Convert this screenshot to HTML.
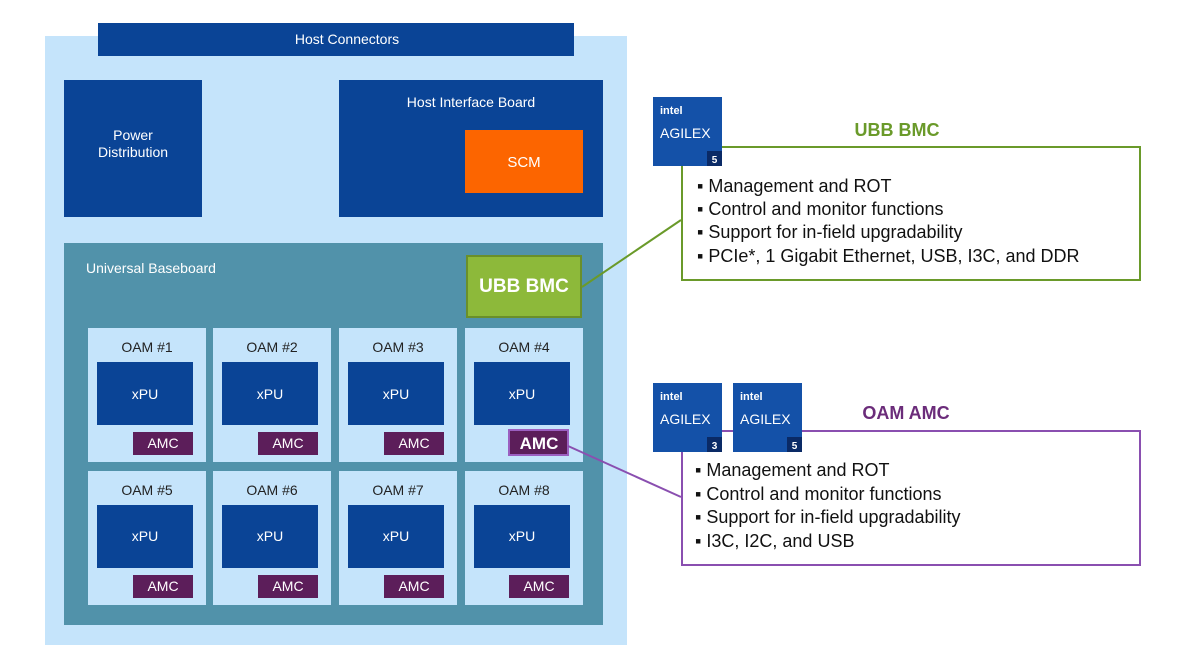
<!DOCTYPE html>
<html><head><meta charset="utf-8"><style>
html,body{margin:0;padding:0;background:#fff;}
svg{display:block;font-family:"Liberation Sans",sans-serif;}
</style></head><body>
<svg width="1200" height="665" viewBox="0 0 1200 665" xmlns="http://www.w3.org/2000/svg">
<rect x="45" y="36" width="582" height="609" fill="#c5e4fb"/>
<rect x="98" y="23" width="476" height="33" fill="#0a4496"/>
<text x="347" y="44" font-size="14" fill="#fff" text-anchor="middle">Host Connectors</text>
<rect x="64" y="80" width="138" height="137" fill="#0a4496"/>
<text x="133" y="140" font-size="14" fill="#fff" text-anchor="middle">Power</text>
<text x="133" y="157" font-size="14" fill="#fff" text-anchor="middle">Distribution</text>
<rect x="339" y="80" width="264" height="137" fill="#0a4496"/>
<text x="471" y="107" font-size="14" fill="#fff" text-anchor="middle">Host Interface Board</text>
<rect x="465" y="130" width="118" height="63" fill="#fc6500"/>
<text x="524" y="167" font-size="15" fill="#fff" text-anchor="middle">SCM</text>
<rect x="64" y="243" width="539" height="382" fill="#5192aa"/>
<text x="86" y="273" font-size="14" fill="#fff">Universal Baseboard</text>
<rect x="467" y="256" width="114" height="61" fill="#8db93a" stroke="#6a8f2a" stroke-width="2"/>
<text x="524" y="292" font-size="19" font-weight="bold" fill="#fff" text-anchor="middle">UBB BMC</text>
<g font-size="14" text-anchor="middle">
<rect x="88" y="328" width="118" height="134" fill="#c5e4fb"/><text x="147" y="352" fill="#222">OAM #1</text><rect x="97" y="362" width="96" height="63" fill="#0a4496"/><text x="145" y="399" fill="#fff">xPU</text><rect x="133" y="432" width="60" height="23" fill="#5c1e5a"/><text x="163" y="448" fill="#fff">AMC</text>
<rect x="213" y="328" width="118" height="134" fill="#c5e4fb"/><text x="272" y="352" fill="#222">OAM #2</text><rect x="222" y="362" width="96" height="63" fill="#0a4496"/><text x="270" y="399" fill="#fff">xPU</text><rect x="258" y="432" width="60" height="23" fill="#5c1e5a"/><text x="288" y="448" fill="#fff">AMC</text>
<rect x="339" y="328" width="118" height="134" fill="#c5e4fb"/><text x="398" y="352" fill="#222">OAM #3</text><rect x="348" y="362" width="96" height="63" fill="#0a4496"/><text x="396" y="399" fill="#fff">xPU</text><rect x="384" y="432" width="60" height="23" fill="#5c1e5a"/><text x="414" y="448" fill="#fff">AMC</text>
<rect x="465" y="328" width="118" height="134" fill="#c5e4fb"/><text x="524" y="352" fill="#222">OAM #4</text><rect x="474" y="362" width="96" height="63" fill="#0a4496"/><text x="522" y="399" fill="#fff">xPU</text><rect x="509" y="430" width="59" height="25" fill="#5c1e5a" stroke="#9b5fc0" stroke-width="2"/><text x="539" y="449" fill="#fff" font-size="17" font-weight="bold">AMC</text>
<rect x="88" y="471" width="118" height="134" fill="#c5e4fb"/><text x="147" y="495" fill="#222">OAM #5</text><rect x="97" y="505" width="96" height="63" fill="#0a4496"/><text x="145" y="541" fill="#fff">xPU</text><rect x="133" y="575" width="60" height="23" fill="#5c1e5a"/><text x="163" y="591" fill="#fff">AMC</text>
<rect x="213" y="471" width="118" height="134" fill="#c5e4fb"/><text x="272" y="495" fill="#222">OAM #6</text><rect x="222" y="505" width="96" height="63" fill="#0a4496"/><text x="270" y="541" fill="#fff">xPU</text><rect x="258" y="575" width="60" height="23" fill="#5c1e5a"/><text x="288" y="591" fill="#fff">AMC</text>
<rect x="339" y="471" width="118" height="134" fill="#c5e4fb"/><text x="398" y="495" fill="#222">OAM #7</text><rect x="348" y="505" width="96" height="63" fill="#0a4496"/><text x="396" y="541" fill="#fff">xPU</text><rect x="384" y="575" width="60" height="23" fill="#5c1e5a"/><text x="414" y="591" fill="#fff">AMC</text>
<rect x="465" y="471" width="118" height="134" fill="#c5e4fb"/><text x="524" y="495" fill="#222">OAM #8</text><rect x="474" y="505" width="96" height="63" fill="#0a4496"/><text x="522" y="541" fill="#fff">xPU</text><rect x="509" y="575" width="60" height="23" fill="#5c1e5a"/><text x="539" y="591" fill="#fff">AMC</text>
</g>
<line x1="582" y1="287" x2="681" y2="220" stroke="#6a9a2a" stroke-width="2"/>
<line x1="568" y1="446" x2="681" y2="497" stroke="#8a4fb0" stroke-width="2"/>
<rect x="682" y="147" width="458" height="133" fill="#fff" stroke="#6a9a2a" stroke-width="2"/>
<text x="897" y="136" font-size="18" font-weight="bold" fill="#6a9a2a" text-anchor="middle">UBB BMC</text>
<g font-size="18" fill="#111">
<text x="697" y="192">▪ Management and ROT</text>
<text x="697" y="215">▪ Control and monitor functions</text>
<text x="697" y="238">▪ Support for in-field upgradability</text>
<text x="697" y="262">▪ PCIe*, 1 Gigabit Ethernet, USB, I3C, and DDR</text>
</g>
<rect x="682" y="431" width="458" height="134" fill="#fff" stroke="#8a4fb0" stroke-width="2"/>
<text x="906" y="419" font-size="18" font-weight="bold" fill="#6b2c7a" text-anchor="middle">OAM AMC</text>
<g font-size="18" fill="#111">
<text x="695" y="476">▪ Management and ROT</text>
<text x="695" y="500">▪ Control and monitor functions</text>
<text x="695" y="523">▪ Support for in-field upgradability</text>
<text x="695" y="547">▪ I3C, I2C, and USB</text>
</g>
<g>
<rect x="653" y="97" width="69" height="69" fill="#1451a8"/>
<text x="660" y="114" font-size="11" font-weight="bold" fill="#fff">intel</text>
<text x="660" y="138" font-size="14" fill="#fff">AGILEX</text>
<rect x="707" y="151" width="15" height="15" fill="#0a2a66"/><text x="714.5" y="163" font-size="10" font-weight="bold" fill="#fff" text-anchor="middle">5</text>
</g>
<g>
<rect x="653" y="383" width="69" height="69" fill="#1451a8"/>
<text x="660" y="400" font-size="11" font-weight="bold" fill="#fff">intel</text>
<text x="660" y="424" font-size="14" fill="#fff">AGILEX</text>
<rect x="707" y="437" width="15" height="15" fill="#0a2a66"/><text x="714.5" y="449" font-size="10" font-weight="bold" fill="#fff" text-anchor="middle">3</text>
</g>
<g>
<rect x="733" y="383" width="69" height="69" fill="#1451a8"/>
<text x="740" y="400" font-size="11" font-weight="bold" fill="#fff">intel</text>
<text x="740" y="424" font-size="14" fill="#fff">AGILEX</text>
<rect x="787" y="437" width="15" height="15" fill="#0a2a66"/><text x="794.5" y="449" font-size="10" font-weight="bold" fill="#fff" text-anchor="middle">5</text>
</g>
</svg>
</body></html>
